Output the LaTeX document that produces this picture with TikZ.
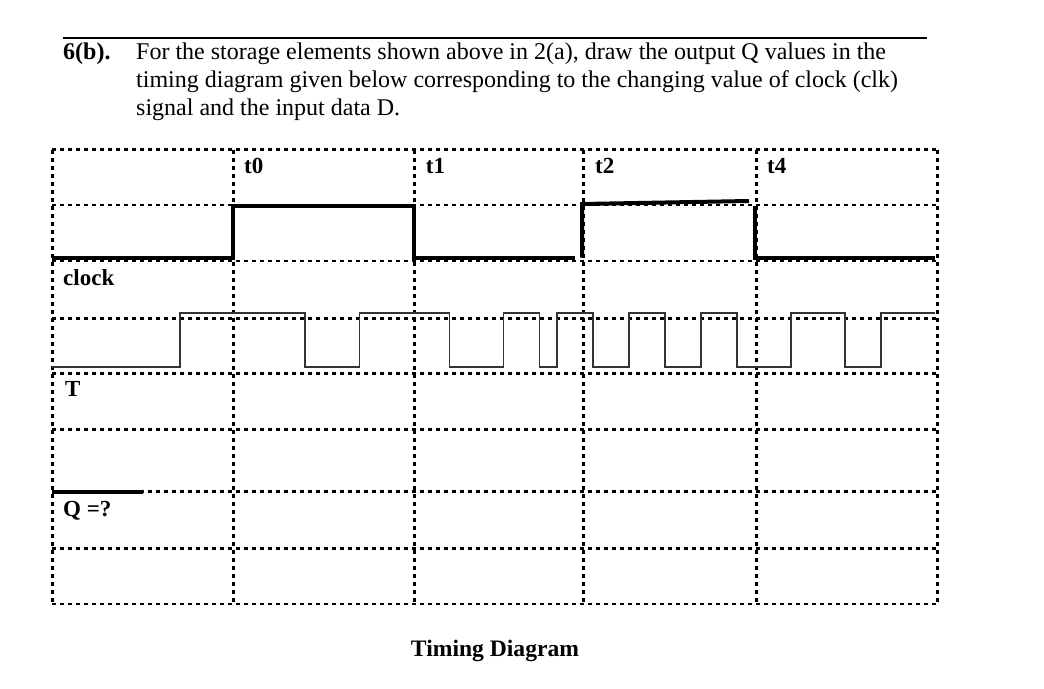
\documentclass[tikz,border=0pt]{standalone}
\usepackage{fontspec}
\setmainfont{Liberation Serif}
\begin{document}
\begin{tikzpicture}[x=1pt,y=-1pt,
  hgrid/.style={line width=2.4pt, dash pattern=on 4pt off 4pt},
  vgrid/.style={line width=3pt, dash pattern=on 4.5pt off 3.5pt},
  clk/.style={line width=4pt, line join=miter},
  tsig/.style={line width=1.6pt, black!80, line join=miter},
  lbl/.style={font=\fontsize{23}{27}\selectfont\bfseries, anchor=base west, inner sep=0pt},
  qtxt/.style={font=\fontsize{24}{28}\selectfont, anchor=base west, inner sep=0pt}]
\useasboundingbox (0,0) rectangle (1044,688);
% top rule
\draw[line width=1.6pt] (63,37.7) -- (927,37.7);
% question
\node[qtxt, font=\fontsize{24}{28}\selectfont\bfseries] (num) at (63,59.5) {6(b).};
\node[qtxt] (q1) at (136,59.5) {For the storage elements shown above in 2(a), draw the output Q values in the};
\node[qtxt] (q2) at (136,87.5) {timing diagram given below corresponding to the changing value of clock (clk)};
\node[qtxt] (q3) at (136,115) {signal and the input data D.};
% grid
\foreach \y in {149.5,205,261,318.5,373.5,429.5,491.5,548.5,604}
  \draw[hgrid] (52,\y) -- (937,\y);
\foreach \x in {52,233,414,583,756,937}
  \draw[vgrid] (\x,149.5) -- (\x,604);
% labels
\node[lbl] (t0) at (244,173.5) {t0};
\node[lbl] (t1) at (425.7,173.5) {t1};
\node[lbl] (t2) at (595,173.5) {t2};
\node[lbl] (t4) at (767,173.5) {t4};
\node[lbl] (clock) at (63,285) {clock};
\node[lbl] (T) at (65,396.5) {T};
\node[lbl] (Q) at (63,516.5) {Q =?};
\node[lbl, font=\fontsize{23.6}{27}\selectfont\bfseries, anchor=base] (title) at (495,656) {Timing Diagram};
% clock waveform
\draw[clk] (52,257.5) -- (233,257.5) -- (233,205.5) -- (413.5,205.5) -- (413.5,257.5) -- (575,257.5);
\draw[clk] (582,257.5) -- (582,204) -- (749,201);
\draw[clk] (755,206) -- (755,257.5) -- (935,257.5);
% T waveform
\draw[tsig] (52,366.7) -- (180,366.7) -- (180,312.7) -- (305,312.7) -- (305,366.7)
  -- (359.3,366.7) -- (359.3,312.7) -- (449.3,312.7) -- (449.3,366.7)
  -- (503.3,366.7) -- (503.3,312.7) -- (539.3,312.7) -- (539.3,366.7)
  -- (557,366.7) -- (557,312.7) -- (592.7,312.7) -- (592.7,366.7)
  -- (629,366.7) -- (629,312.7) -- (665,312.7) -- (665,366.7)
  -- (701,366.7) -- (701,312.7) -- (736.7,312.7) -- (736.7,366.7)
  -- (791,366.7) -- (791,312.7) -- (845,312.7) -- (845,366.7)
  -- (881,366.7) -- (881,312.7) -- (935,312.7);
% Q line
\draw[clk] (52,491.5) -- (142.7,491.5);
\end{tikzpicture}
\end{document}
